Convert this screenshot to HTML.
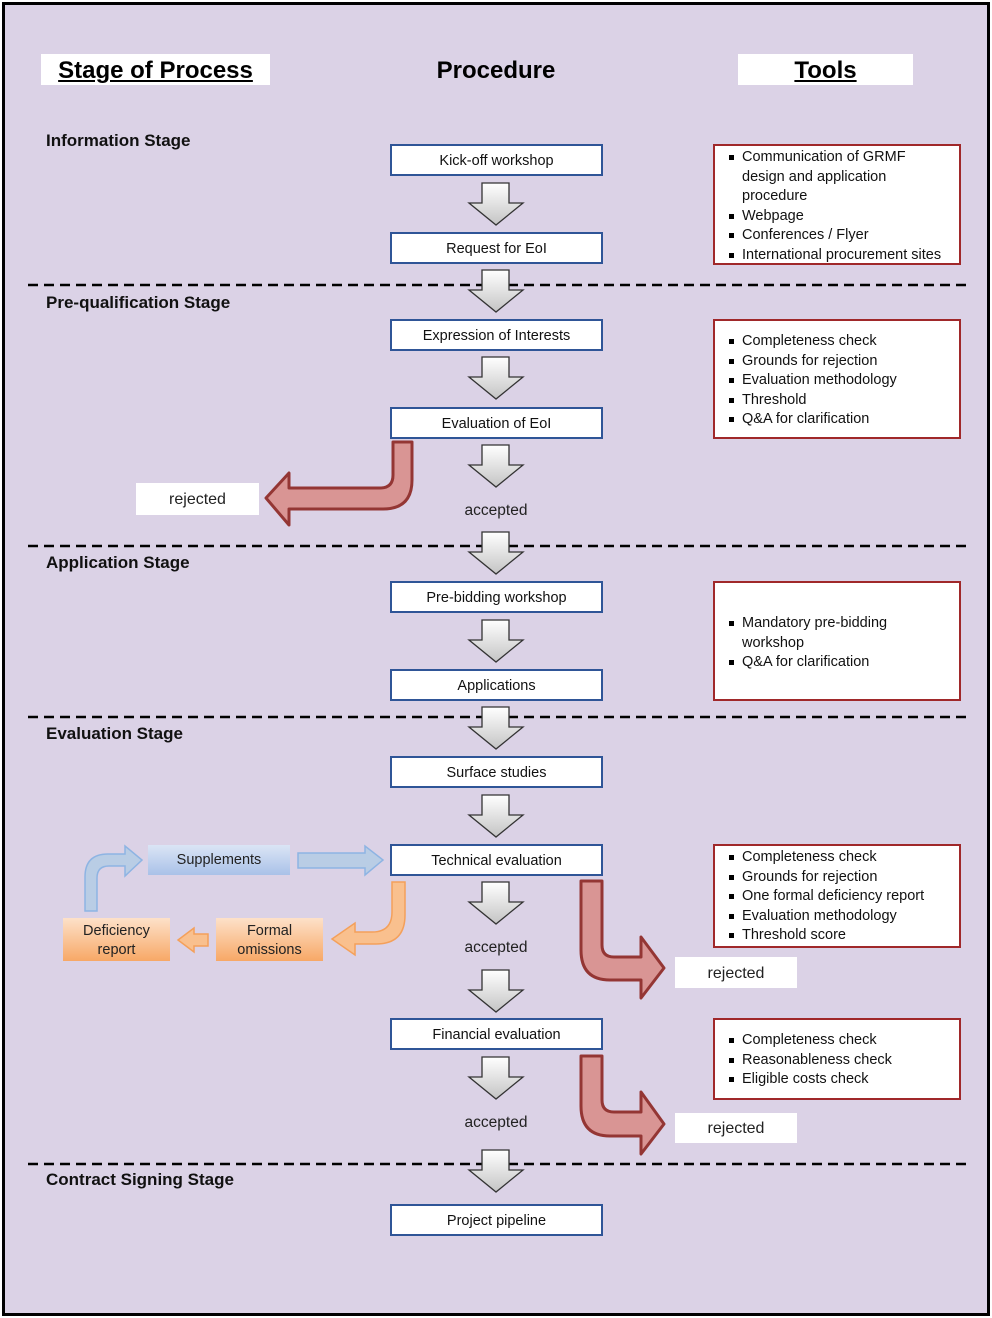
<!DOCTYPE html>
<html><head><meta charset="utf-8"><style>
*{margin:0;padding:0;box-sizing:border-box}
body{width:992px;height:1318px;background:#fff;position:relative;overflow:hidden;font-family:"Liberation Sans",sans-serif}
#frame{position:absolute;left:2px;top:2px;width:988px;height:1314px;background:#dbd2e6;border:3px solid #000}
.a{position:absolute}
.box{position:absolute;left:390px;width:213px;height:32px;background:#fff;border:2px solid #2f5597;font-size:14.5px;text-align:center;line-height:30px;color:#111}
.tool{position:absolute;left:713px;width:248px;background:#fff;border:2px solid #a0282a;font-size:14.5px;line-height:19.5px;color:#111;padding-left:27px}
.tool div{position:relative}
.tool div:before{content:"";position:absolute;left:-13px;top:7px;width:5px;height:5px;background:#000}
.stage{position:absolute;left:46px;font-weight:bold;font-size:17px;color:#111}
.hdr{position:absolute;font-weight:bold;font-size:24px;text-align:center;line-height:33px;color:#000}
.acc{position:absolute;left:420px;width:152px;text-align:center;font-size:15.5px;color:#222}
.rej{position:absolute;background:#fff;font-size:16px;text-align:center;color:#222}
</style></head><body>
<div id="frame"></div>
<div class="hdr" style="left:41px;top:54px;width:229px;height:31px;background:#fff;text-decoration:underline">Stage of Process</div>
<div class="hdr" style="left:396px;top:54px;width:200px">Procedure</div>
<div class="hdr" style="left:738px;top:54px;width:175px;height:31px;background:#fff;text-decoration:underline">Tools</div>

<div class="stage" style="top:131px">Information Stage</div>
<div class="stage" style="top:293px">Pre-qualification Stage</div>
<div class="stage" style="top:553px">Application Stage</div>
<div class="stage" style="top:724px">Evaluation Stage</div>
<div class="stage" style="top:1170px">Contract Signing Stage</div>

<svg class="a" style="left:0;top:0" width="992" height="1318">
<defs>
<linearGradient id="g" x1="0" y1="0" x2="0" y2="1"><stop offset="0" stop-color="#fff"/><stop offset="1" stop-color="#c4c4c4"/></linearGradient>
</defs>
<g stroke="#000" stroke-width="2.5" stroke-dasharray="10,6">
<line x1="28" y1="285" x2="966" y2="285"/>
<line x1="28" y1="546" x2="966" y2="546"/>
<line x1="28" y1="717" x2="966" y2="717"/>
<line x1="28" y1="1164" x2="966" y2="1164"/>
</g>
<g fill="url(#g)" stroke="#333" stroke-width="1.3">
<path id="da" d="M482,183 H509 V203 H523 L496,225 L469,203 H482 Z"/>
<use href="#da" y="87"/>
<use href="#da" y="174"/>
<use href="#da" y="262"/>
<use href="#da" y="349"/>
<use href="#da" y="437"/>
<use href="#da" y="524"/>
<use href="#da" y="612"/>
<use href="#da" y="699"/>
<use href="#da" y="787"/>
<use href="#da" y="874"/>
<use href="#da" y="967"/>
</g>
<g fill="#d99594" stroke="#943634" stroke-width="3" stroke-linejoin="round">
<path d="M393,442 H412 V480 Q412,509 383,509 H289 V525 L266,498 L289,473 V488 H380 Q393,488 393,475 Z"/>
<path d="M581,881 H602 V945 Q602,957 614,957 H641 V937 L664,968 L641,998 V980 H610 Q581,980 581,950 Z"/>
<path d="M581,1056 H602 V1100 Q602,1112 614,1112 H641 V1092 L664,1124 L641,1154 V1136 H610 Q581,1136 581,1106 Z"/>
</g>
<path d="M392,882 H405 V915 Q405,944 376,944 H355 V955 L332,939 L355,923 V932 H372 Q392,932 392,912 Z" fill="#f9c08e" stroke="#f4a05a" stroke-width="1.5"/>
<path d="M85,911 H97 V878 Q97,866 109,866 H125 V876 L142,860 L125,846 V854 H108 Q85,854 85,877 Z" fill="#b9cde5" stroke="#8eb4e3" stroke-width="1.5"/>
<path d="M298,853 H365 V846 L383,860 L365,875 V868 H298 Z" fill="#b9cde5" stroke="#8eb4e3" stroke-width="1.5"/>
<path d="M208,934 H194 V928 L178,940 L194,952 V946 H208 Z" fill="#f9c08e" stroke="#f4a05a" stroke-width="1.5"/>
</svg>

<div class="box" style="top:144px">Kick-off workshop</div>
<div class="box" style="top:232px">Request for EoI</div>
<div class="box" style="top:319px">Expression of Interests</div>
<div class="box" style="top:407px">Evaluation of EoI</div>
<div class="box" style="top:581px">Pre-bidding workshop</div>
<div class="box" style="top:669px">Applications</div>
<div class="box" style="top:756px">Surface studies</div>
<div class="box" style="top:844px">Technical evaluation</div>
<div class="box" style="top:1018px">Financial evaluation</div>
<div class="box" style="top:1204px">Project pipeline</div>

<div class="acc" style="top:502px">accepted</div>
<div class="acc" style="top:939px">accepted</div>
<div class="acc" style="top:1114px">accepted</div>

<div class="rej" style="left:136px;top:483px;width:123px;height:32px;line-height:34px">rejected</div>
<div class="rej" style="left:675px;top:957px;width:122px;height:31px;line-height:33px">rejected</div>
<div class="rej" style="left:675px;top:1113px;width:122px;height:30px;line-height:32px">rejected</div>

<div class="a" style="left:148px;top:845px;width:142px;height:30px;background:linear-gradient(#dbe5f5,#a9c1e8);font-size:14.5px;text-align:center;line-height:31px;color:#222">Supplements</div>
<div class="a" style="left:63px;top:918px;width:107px;height:43px;background:linear-gradient(#fde1c9,#f7a866);font-size:14.5px;text-align:center;line-height:19px;padding-top:4px;color:#222">Deficiency<br>report</div>
<div class="a" style="left:216px;top:918px;width:107px;height:43px;background:linear-gradient(#fde1c9,#f7a866);font-size:14.5px;text-align:center;line-height:19px;padding-top:4px;color:#222">Formal<br>omissions</div>

<div class="tool" style="top:144px;height:121px;padding-top:2px">
<div>Communication of GRMF<br>design and application<br>procedure</div><div>Webpage</div><div>Conferences / Flyer</div><div>International procurement sites</div></div>
<div class="tool" style="top:319px;height:120px;padding-top:11px">
<div>Completeness check</div><div>Grounds for rejection</div><div>Evaluation methodology</div><div>Threshold</div><div>Q&amp;A for clarification</div></div>
<div class="tool" style="top:581px;height:120px;padding-top:31px">
<div>Mandatory pre-bidding<br>workshop</div><div>Q&amp;A for clarification</div></div>
<div class="tool" style="top:844px;height:104px;padding-top:2px">
<div>Completeness check</div><div>Grounds for rejection</div><div>One formal deficiency report</div><div>Evaluation methodology</div><div>Threshold score</div></div>
<div class="tool" style="top:1018px;height:82px;padding-top:11px">
<div>Completeness check</div><div>Reasonableness check</div><div>Eligible costs check</div></div>
</body></html>
